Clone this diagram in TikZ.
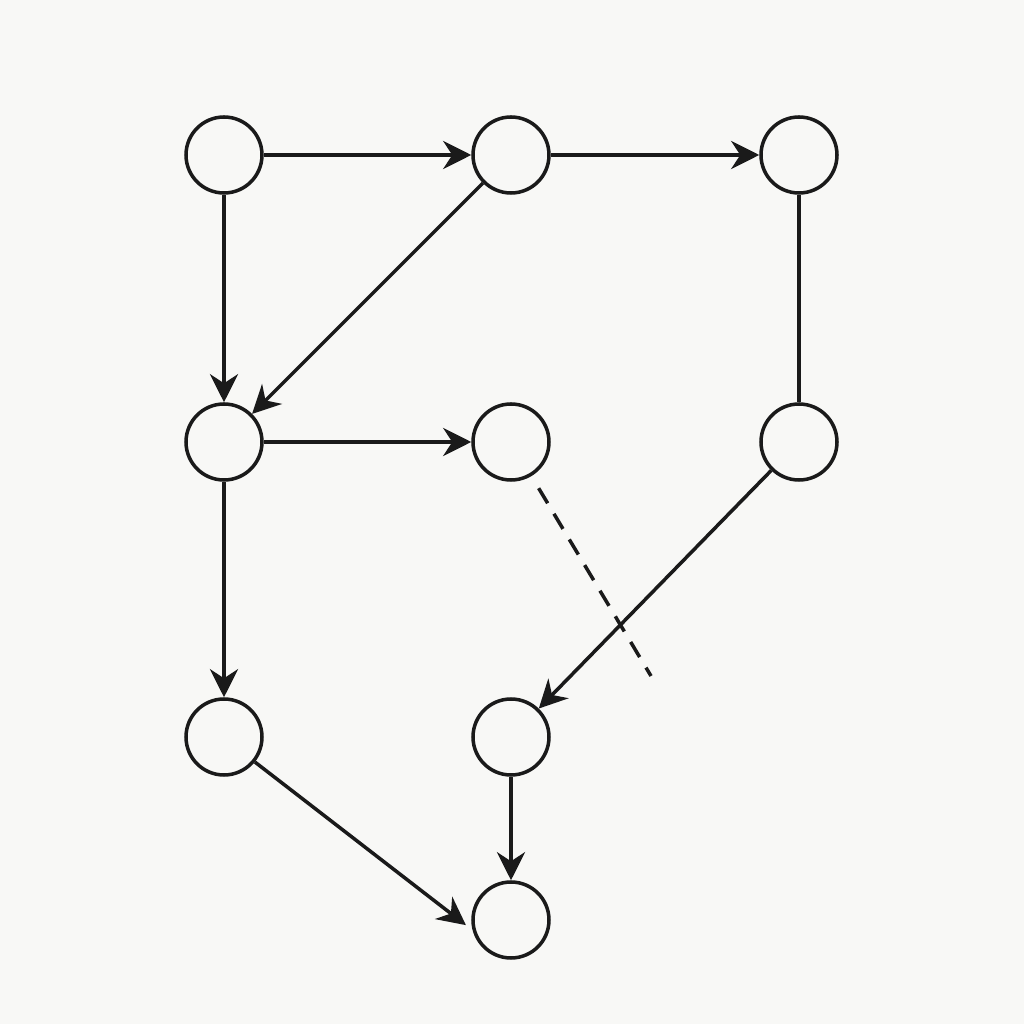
\documentclass[tikz,border=0pt]{standalone}
\usepackage{tikz}
\usetikzlibrary{arrows.meta}
\tikzset{>={Stealth[length=8pt,width=8pt]}}
\definecolor{ink}{RGB}{26,26,26}
\definecolor{paper}{RGB}{248,248,246}
\tikzset{vertex/.style={draw=ink,circle,line width=1pt,minimum size=0.76cm,inner sep=0pt}}

\begin{document}
\begin{tikzpicture}[line width=1pt,draw=ink]
                \fill[paper] (0,0) rectangle (10.24,10.24);
                \useasboundingbox (0,0) rectangle (10.24,10.24);
                \node[vertex] (a) at (2.24,8.69) {};
                \node[vertex] (b) at (5.11,8.69) {};
                \node[vertex] (c) at (7.99,8.69) {};
                \node[vertex] (d) at (2.24,5.82) {};
                \node[vertex] (e) at (5.11,5.82) {};
                \node[vertex] (f) at (7.99,5.82) {};
                \node[vertex] (g) at (2.24,2.87) {};
                \node[vertex] (h) at (5.11,2.87) {};
                \node[vertex] (i) at (5.11,1.04) {};
                \coordinate (cut) at (6.51,3.48);
                \draw[->] (a) -- (b);
                \draw[->] (b) -- (c);
                \draw[->] (a) -- (d);
                \draw[->] (b) -- (d);
                \draw[->] (d) -- (e);
                \draw (c) -- (f);
                \draw[->] (f) -- (h);
                \draw[->] (d) -- (g);
                \draw[->,shorten >=2.4pt] (g.-39) -- (i.195);
                \draw[->] (h) -- (i);
                \draw[dash pattern=on 5pt off 3.5pt,shorten <=4pt] (e) -- (cut);
            \end{tikzpicture}
\end{document}
